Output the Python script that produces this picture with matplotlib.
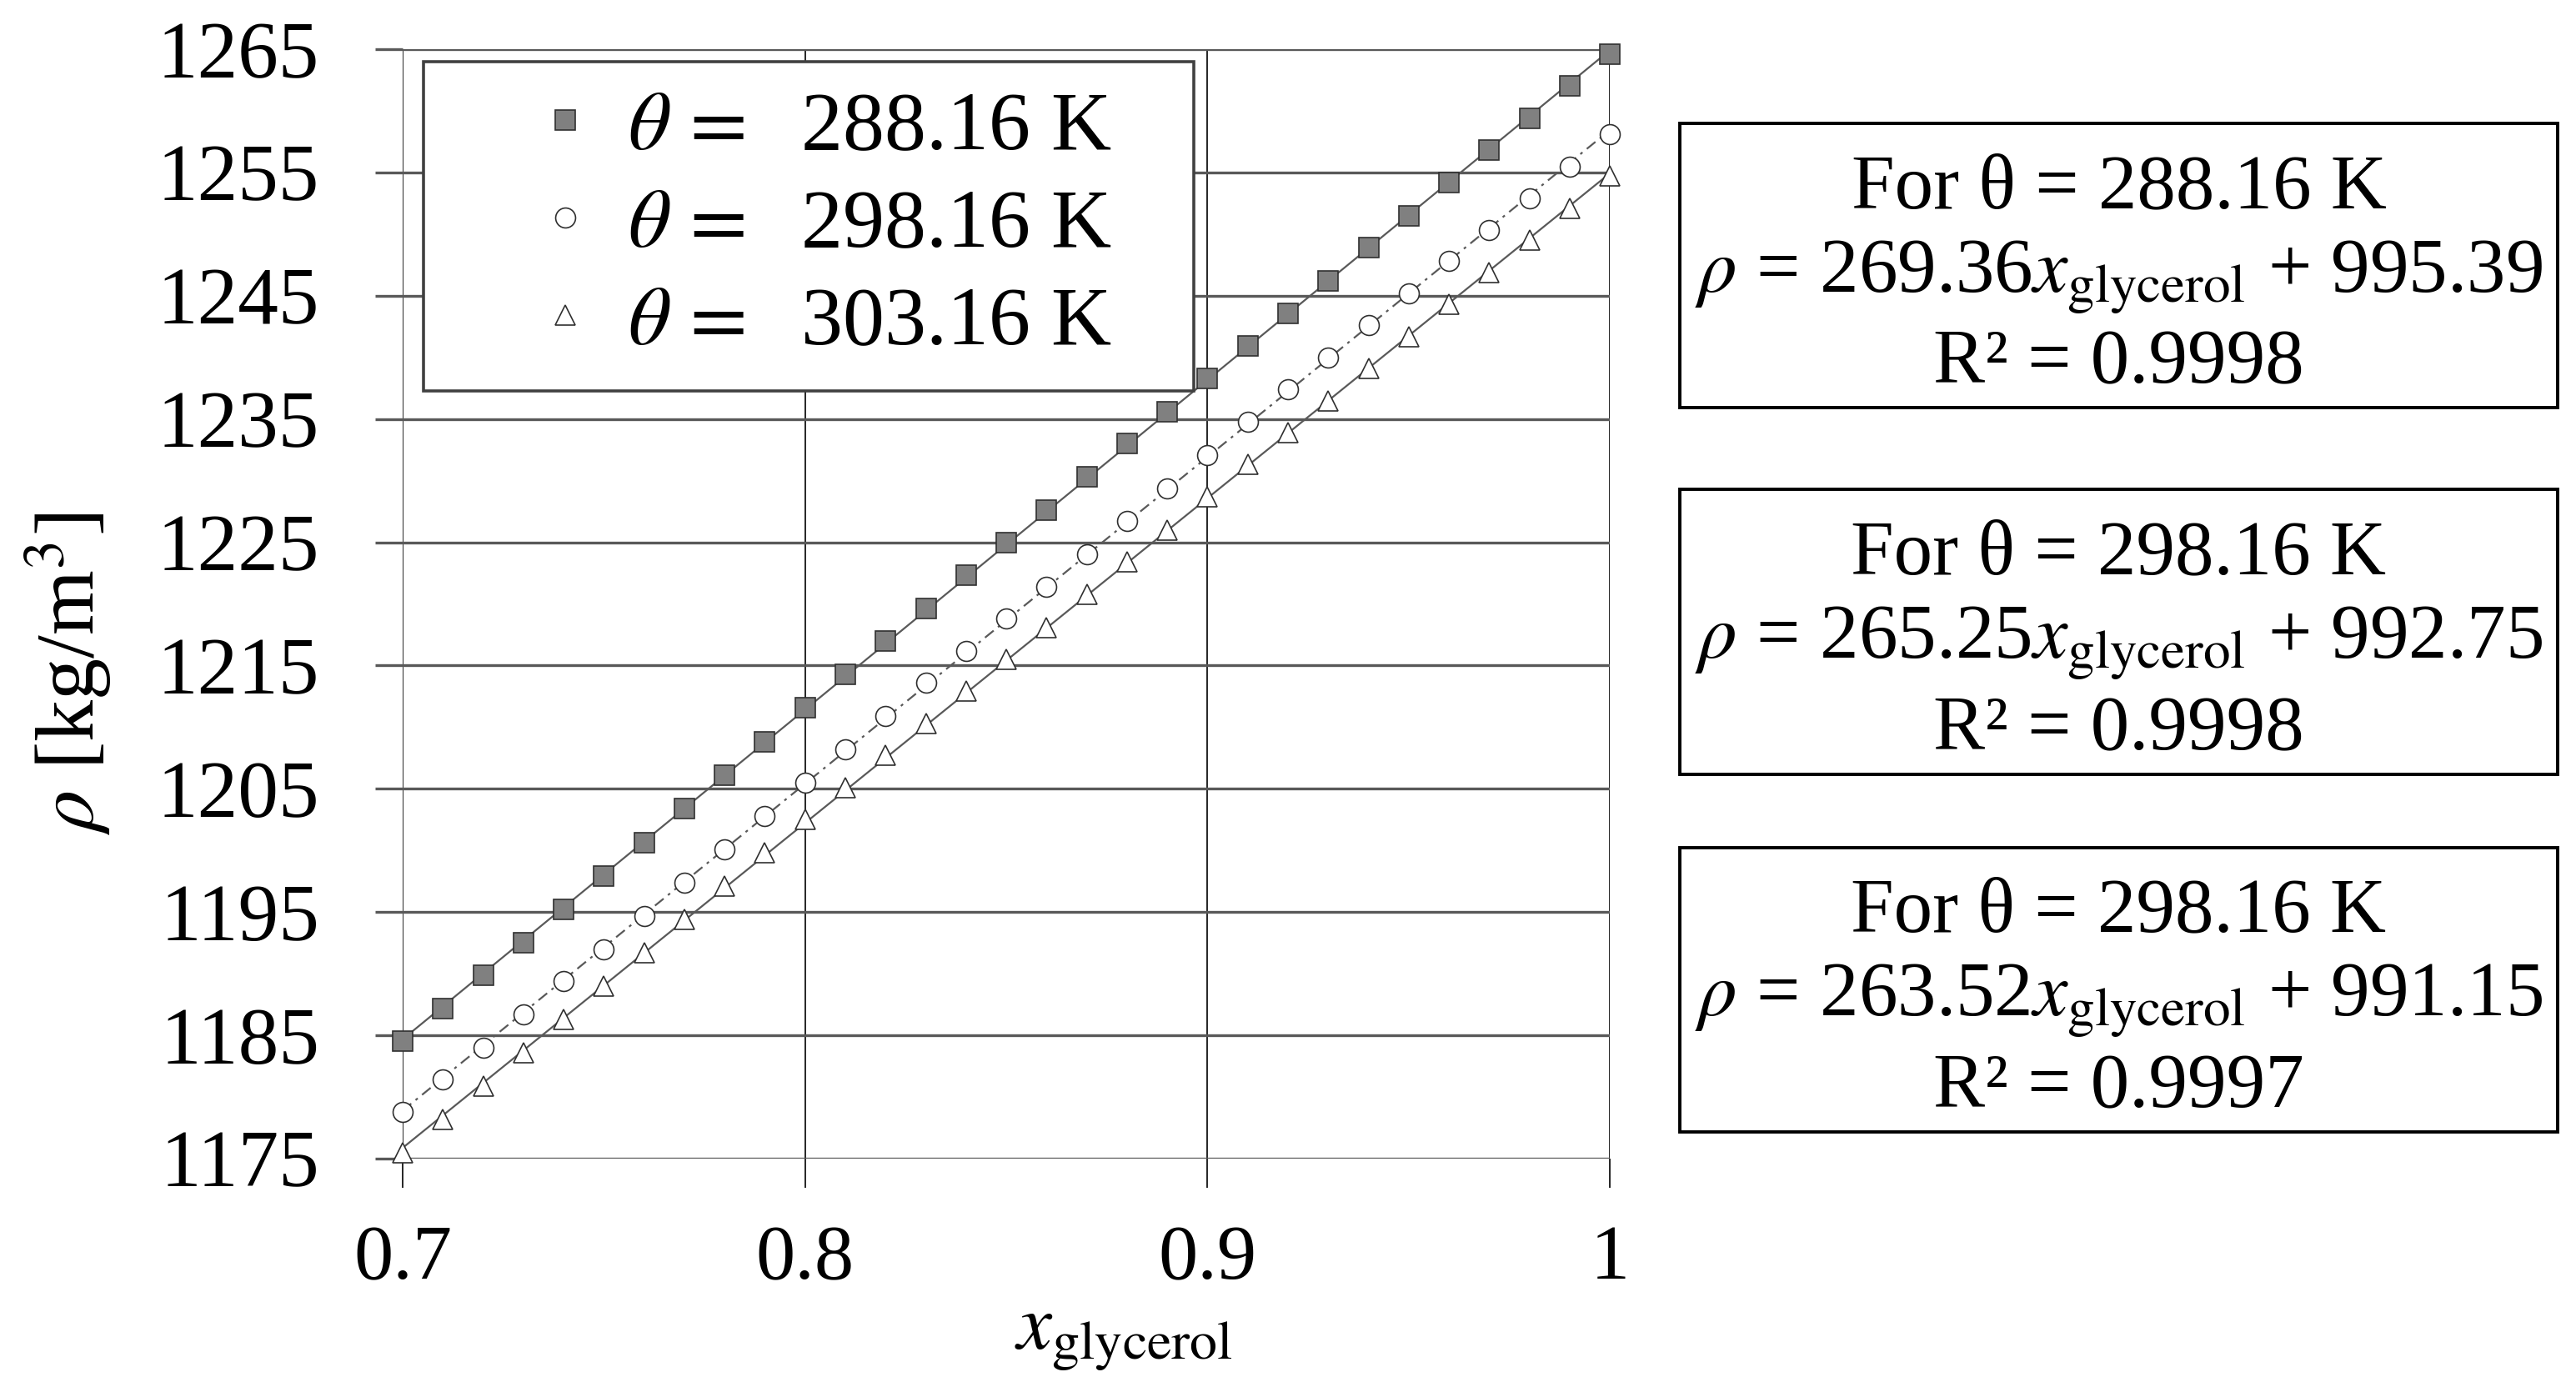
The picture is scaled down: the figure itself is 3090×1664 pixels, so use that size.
import matplotlib
matplotlib.use("Agg")
import matplotlib.pyplot as plt
from matplotlib.patches import Rectangle
import numpy as np

# mole fraction of glycerol
x_glycerol = [0.70, 0.71, 0.72, 0.73, 0.74, 0.75, 0.76, 0.77, 0.78, 0.79, 0.80,
              0.81, 0.82, 0.83, 0.84, 0.85, 0.86, 0.87, 0.88, 0.89, 0.90,
              0.91, 0.92, 0.93, 0.94, 0.95, 0.96, 0.97, 0.98, 0.99, 1.00]

# density [kg/m3]
rho_288 = [1184.5, 1187.2, 1189.9, 1192.5, 1195.2, 1197.9, 1200.6, 1203.4, 1206.1, 1208.8, 1211.6,
           1214.3, 1217.0, 1219.6, 1222.3, 1225.0, 1227.6, 1230.3, 1233.0, 1235.6, 1238.3,
           1240.9, 1243.6, 1246.2, 1248.9, 1251.5, 1254.2, 1256.8, 1259.4, 1262.0, 1264.6]
rho_298 = [1178.8, 1181.4, 1184.0, 1186.7, 1189.4, 1192.0, 1194.7, 1197.4, 1200.1, 1202.8, 1205.5,
           1208.2, 1210.9, 1213.6, 1216.2, 1218.8, 1221.4, 1224.0, 1226.7, 1229.4, 1232.1,
           1234.8, 1237.4, 1240.0, 1242.6, 1245.2, 1247.8, 1250.3, 1252.9, 1255.5, 1258.1]
rho_303 = [1175.5, 1178.2, 1180.9, 1183.6, 1186.3, 1189.0, 1191.7, 1194.4, 1197.1, 1199.8, 1202.5,
           1205.1, 1207.7, 1210.3, 1212.9, 1215.5, 1218.1, 1220.8, 1223.4, 1226.0, 1228.7,
           1231.3, 1233.9, 1236.5, 1239.1, 1241.7, 1244.3, 1246.9, 1249.5, 1252.1, 1254.7]

legend_labels = [r'$\theta\,=$  288.16 K', r'$\theta\,=$  298.16 K', r'$\theta\,=$  303.16 K']

yticks = [1175, 1185, 1195, 1205, 1215, 1225, 1235, 1245, 1255, 1265]
xticks = [0.7, 0.8, 0.9, 1.0]
xtick_labels = ['0.7', '0.8', '0.9', '1']

# fit boxes
box_theta = ['288.16', '298.16', '298.16']
box_slope = ['269.36', '265.25', '263.52']
box_icpt = ['995.39', '992.75', '991.15']
box_r2 = ['0.9998', '0.9998', '0.9997']

plt.rcParams['font.family'] = ['Liberation Serif', 'DejaVu Serif']
plt.rcParams['mathtext.fontset'] = 'stix'

fig = plt.figure(figsize=(15.45, 8.32), dpi=200)
ax = fig.add_axes([0.1563, 0.1647, 0.4687, 0.7998])

gray = '#595959'
xs = np.array(x_glycerol)
styles = [
    (rho_288, 's', '#808080', '-'),
    (rho_298, 'o', 'white', (0, (6, 3, 1.5, 3))),
    (rho_303, '^', 'white', '-'),
]
handles = []
for (vals, mk, fc, ls), lab in zip(styles, legend_labels):
    k, b = np.polyfit(xs, vals, 1)
    xx = np.array([0.7, 1.0])
    ax.plot(xx, k * xx + b, color=gray, lw=0.8, ls=ls, zorder=3, clip_on=False)
    h, = ax.plot(xs, vals, ls='none', marker=mk, ms=8.8 if mk != 'o' else 8.6,
                 mfc=fc, mec='#303030', mew=0.6, zorder=4, clip_on=False, label=lab)
    handles.append(h)

ax.set_xlim(0.7, 1.0)
ax.set_ylim(1175, 1265)
ax.set_xticks(xticks)
ax.set_xticklabels(xtick_labels)
ax.set_yticks(yticks)
for s in ax.spines.values():
    s.set_visible(False)

ax.grid(axis='y', color=gray, lw=1.2, zorder=1)
ax.grid(axis='x', color='black', lw=0.6, zorder=1)
ax.tick_params(axis='y', length=12, width=1.2, color=gray, pad=24, labelsize=35)
ax.tick_params(axis='x', length=12.5, width=0.6, color='black', pad=16, labelsize=34)

leg = ax.legend(handles=handles, loc='upper left',
                bbox_to_anchor=(0.017, 0.989, 0.638, 0.0), mode='expand',
                fontsize=36, frameon=True, fancybox=False, framealpha=1,
                edgecolor='#404040', borderpad=0.35, labelspacing=0.26,
                handlelength=2.7, handletextpad=-0.6, numpoints=1,
                borderaxespad=0)
leg.get_frame().set_linewidth(1.3)
leg.set_zorder(10)

fig.text(0.0265, 0.514, r'$\rho$ [kg/m$^3$]', rotation=90, ha='center', va='center', fontsize=36)
fig.text(0.4362, 0.036, r'$x_{\mathrm{glycerol}}$', ha='center', va='center', fontsize=34)

box_tops = [0.911, 0.647, 0.389]
box_h = 0.205
for top, th, sl, ic, r2 in zip(box_tops, box_theta, box_slope, box_icpt, box_r2):
    fig.add_artist(Rectangle((0.652, top - box_h), 0.341, box_h, transform=fig.transFigure,
                             fill=False, edgecolor='black', lw=1.4))
    txt = ('For θ = ' + th + ' K\n'
           + r'$\rho$ = ' + sl + r'$x_{\mathrm{glycerol}}$ + ' + ic + '\n'
           + 'R² = ' + r2)
    fig.text(0.8225, top - box_h / 2 - 0.008, txt, ha='center', va='center',
             fontsize=33.5, linespacing=1.25)

fig.savefig('out.png', dpi=200)
